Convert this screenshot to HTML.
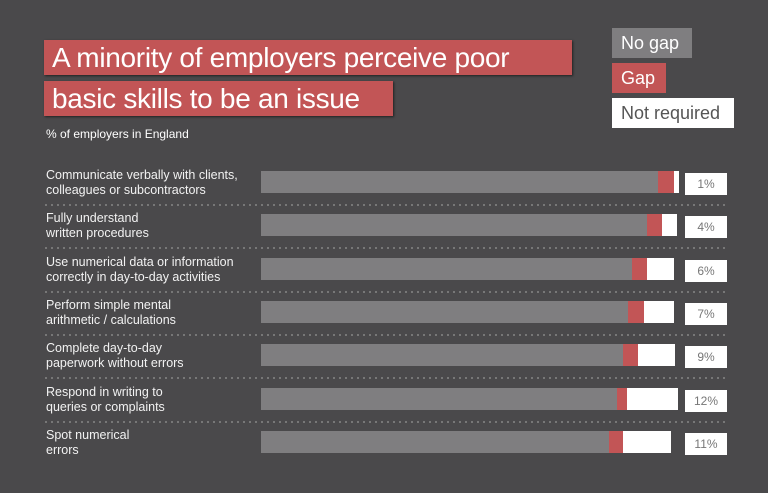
<!DOCTYPE html><html><head><style>
body{margin:0;width:768px;height:493px;background:#4a494b;font-family:"Liberation Sans",sans-serif;position:relative;overflow:hidden}
.a{position:absolute}
.t{background:#c25556;color:#fff;font-size:28px;line-height:35px;padding-left:8px;box-shadow:1px 1px 2px #222;letter-spacing:-0.3px}
.lg{font-size:18px;line-height:30px;padding-left:9px;box-sizing:border-box}
.lab{color:#f2f2f2;font-size:12.5px;line-height:15px;left:46px}
.bar{height:22px}
.pc{background:#fff;color:#777;font-size:12px;text-align:center;line-height:22px;width:42px;height:22px;left:685px}
.dot{left:45px;width:682px;height:2px;background:repeating-linear-gradient(to right,#777 0 2px,transparent 2px 6px)}
</style></head><body>
<div class="a t" style="left:44px;top:40px;width:520px">A minority of employers perceive poor</div>
<div class="a t" style="left:44px;top:81px;width:341px">basic skills to be an issue</div>
<div class="a" style="left:46px;top:127px;color:#fff;font-size:12px">% of employers in England</div>
<div class="a lg" style="left:612px;top:28px;width:80px;background:#7f7e80;color:#fff">No gap</div>
<div class="a lg" style="left:612px;top:63px;width:54px;background:#c25556;color:#fff">Gap</div>
<div class="a lg" style="left:612px;top:98px;width:122px;background:#fff;color:#555">Not required</div>
<div id="rows"></div>
<script>
var d=[["Communicate verbally with clients,<br>colleagues or subcontractors",658,674,679,"1%"],
["Fully understand<br>written procedures",647,662,677,"4%"],
["Use numerical data or information<br>correctly in day-to-day activities",632,647,674,"6%"],
["Perform simple mental<br>arithmetic / calculations",628,644,674,"7%"],
["Complete day-to-day<br>paperwork without errors",623,638,675,"9%"],
["Respond in writing to<br>queries or complaints",617,627,678,"12%"],
["Spot numerical<br>errors",609,623,671,"11%"]];
var h="";d.forEach(function(r,i){var y=171+i*43.3;
h+='<div class="a lab" style="top:'+(y-3)+'px">'+r[0]+'</div>';
h+='<div class="a bar" style="top:'+y+'px;left:261px;width:'+(r[1]-261)+'px;background:#7f7e80"></div>';
h+='<div class="a bar" style="top:'+y+'px;left:'+r[1]+'px;width:'+(r[2]-r[1])+'px;background:#c25556"></div>';
h+='<div class="a bar" style="top:'+y+'px;left:'+r[2]+'px;width:'+(r[3]-r[2])+'px;background:#fff"></div>';
h+='<div class="a pc" style="top:'+(y+2)+'px">'+r[4]+'</div>';
if(i<6)h+='<div class="a dot" style="top:'+(y+33)+'px"></div>';});
document.getElementById("rows").innerHTML=h;
</script>
</body></html>
